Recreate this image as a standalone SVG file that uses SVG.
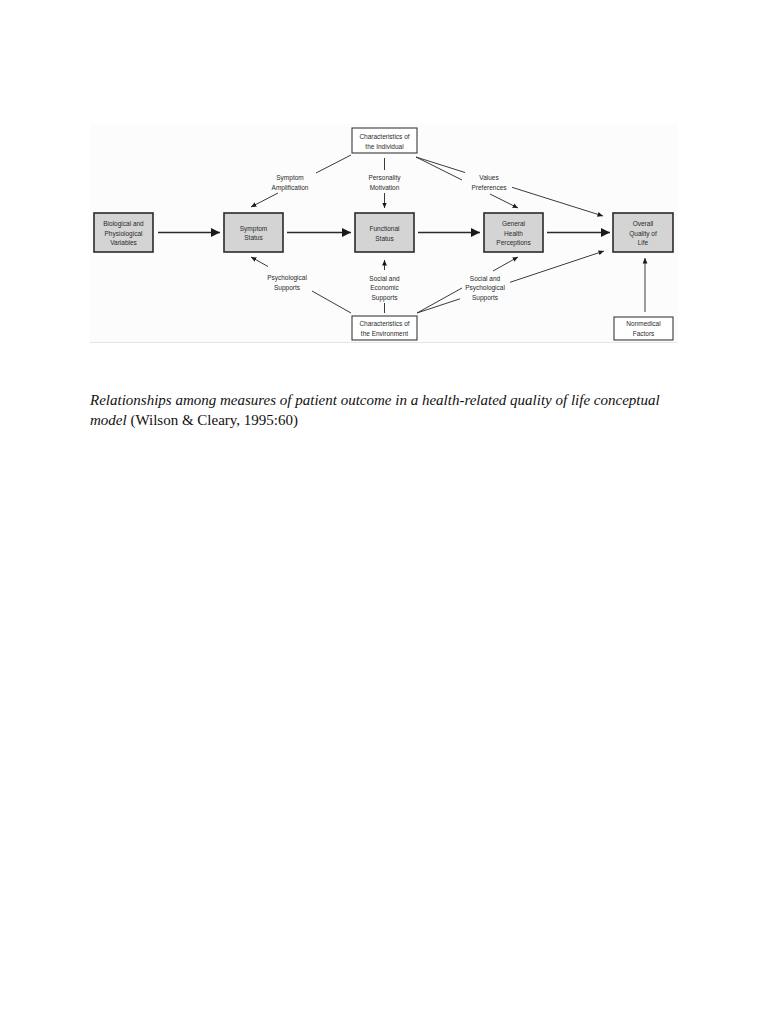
<svg xmlns="http://www.w3.org/2000/svg" width="768" height="1024" viewBox="0 0 768 1024">
<style>
.box{fill:#d4d4d4;stroke:#2a2a2a;stroke-width:1.6}
.wbox{fill:#ffffff;stroke:#3a3a3a;stroke-width:1.1}
.t{font-family:"Liberation Sans",Arial,sans-serif;font-size:6.5px;fill:#2a2a2a;text-anchor:middle}
.l{stroke:#3a3a3a;stroke-width:1;fill:none}
.m{stroke:#2a2a2a;stroke-width:1.3;fill:none}
.cap{font-family:"Liberation Serif","Times New Roman",serif;font-size:15px;fill:#111}
</style>
<defs>
<marker id="big" markerUnits="userSpaceOnUse" markerWidth="10" markerHeight="10" refX="9" refY="5" orient="auto">
<path d="M0,0.6 L9,5 L0,9.4 Z" fill="#1a1a1a"/>
</marker>
<marker id="small" markerUnits="userSpaceOnUse" markerWidth="6" markerHeight="6" refX="5.5" refY="3" orient="auto">
<path d="M0,0.6 L5.5,3 L0,5.4 Z" fill="#1a1a1a"/>
</marker>
</defs>
<rect x="90" y="124" width="588" height="218" fill="#fcfcfc"/>
<line x1="90" y1="342.5" x2="678" y2="342.5" stroke="#e6e6e6" stroke-width="1"/>

<g id="connectors">
<line class="m" x1="158" y1="232.5" x2="220" y2="232.5" marker-end="url(#big)"/>
<line class="m" x1="287" y1="232.5" x2="351" y2="232.5" marker-end="url(#big)"/>
<line class="m" x1="418" y1="232.5" x2="480" y2="232.5" marker-end="url(#big)"/>
<line class="m" x1="547" y1="232.5" x2="610" y2="232.5" marker-end="url(#big)"/>
<line class="l" x1="351" y1="155" x2="316" y2="173"/>
<line class="l" x1="278" y1="193" x2="251" y2="207" marker-end="url(#small)"/>
<line class="l" x1="384.5" y1="158" x2="384.5" y2="170"/>
<line class="l" x1="384.5" y1="193" x2="384.5" y2="208" marker-end="url(#small)"/>
<line class="l" x1="416" y1="157" x2="465" y2="172.5"/>
<line class="l" x1="512" y1="187.3" x2="603" y2="216" marker-end="url(#small)"/>
<line class="l" x1="416" y1="157" x2="462" y2="180"/>
<line class="l" x1="490" y1="194" x2="518" y2="208" marker-end="url(#small)"/>
<line class="l" x1="351" y1="313" x2="312" y2="291"/>
<line class="l" x1="268" y1="266.5" x2="251" y2="257" marker-end="url(#small)"/>
<line class="l" x1="384.5" y1="313" x2="384.5" y2="303"/>
<line class="l" x1="384.5" y1="270" x2="384.5" y2="260" marker-end="url(#small)"/>
<line class="l" x1="417" y1="313" x2="462" y2="288"/>
<line class="l" x1="493" y1="271" x2="518" y2="257" marker-end="url(#small)"/>
<line class="l" x1="417" y1="313" x2="460" y2="298.8"/>
<line class="l" x1="510" y1="282.3" x2="604" y2="251" marker-end="url(#small)"/>
<line class="l" x1="645" y1="312" x2="645" y2="258" marker-end="url(#small)"/>
</g>

<g id="label-symptom-amplification">
<text class="t" x="290" y="179.5">Symptom</text>
<text class="t" x="290" y="189.5">Amplification</text>
</g>
<g id="label-personality-motivation">
<text class="t" x="384.5" y="179.5">Personality</text>
<text class="t" x="384.5" y="189.5">Motivation</text>
</g>
<g id="label-values-preferences">
<text class="t" x="489" y="179.5">Values</text>
<text class="t" x="489" y="189.5">Preferences</text>
</g>
<g id="label-psychological-supports">
<text class="t" x="287" y="279.5">Psychological</text>
<text class="t" x="287" y="289.5">Supports</text>
</g>
<g id="label-social-economic-supports">
<text class="t" x="384.5" y="280.5">Social and</text>
<text class="t" x="384.5" y="290">Economic</text>
<text class="t" x="384.5" y="299.5">Supports</text>
</g>
<g id="label-social-psychological-supports">
<text class="t" x="485" y="280.5">Social and</text>
<text class="t" x="485" y="290">Psychological</text>
<text class="t" x="485" y="299.5">Supports</text>
</g>

<g id="node-biological">
<rect class="box" x="94" y="213" width="59" height="39"/>
<text class="t" x="123.5" y="225.5">Biological and</text>
<text class="t" x="123.5" y="235.5">Physiological</text>
<text class="t" x="123.5" y="245">Variables</text>
</g>
<g id="node-symptom">
<rect class="box" x="224" y="213" width="59" height="39"/>
<text class="t" x="253.5" y="230.5">Symptom</text>
<text class="t" x="253.5" y="240">Status</text>
</g>
<g id="node-functional">
<rect class="box" x="355" y="213" width="59" height="39"/>
<text class="t" x="384.5" y="231">Functional</text>
<text class="t" x="384.5" y="240.5">Status</text>
</g>
<g id="node-general">
<rect class="box" x="484" y="213" width="59" height="39"/>
<text class="t" x="513.5" y="225.5">General</text>
<text class="t" x="513.5" y="235.5">Health</text>
<text class="t" x="513.5" y="245">Perceptions</text>
</g>
<g id="node-overall">
<rect class="box" x="613" y="213" width="60" height="39"/>
<text class="t" x="643" y="225.5">Overall</text>
<text class="t" x="643" y="235.5">Quality of</text>
<text class="t" x="643" y="245">Life</text>
</g>
<g id="node-individual">
<rect class="wbox" x="352" y="128" width="65" height="25"/>
<text class="t" x="384.5" y="138.5">Characteristics of</text>
<text class="t" x="384.5" y="148.5">the Individual</text>
</g>
<g id="node-environment">
<rect class="wbox" x="352" y="316" width="65" height="24"/>
<text class="t" x="384.5" y="325.5">Characteristics of</text>
<text class="t" x="384.5" y="335.5">the Environment</text>
</g>
<g id="node-nonmedical">
<rect class="wbox" x="614" y="317" width="59" height="23"/>
<text class="t" x="643.5" y="325.5">Nonmedical</text>
<text class="t" x="643.5" y="335.5">Factors</text>
</g>

<g id="caption">
<text class="cap" x="90" y="405"><tspan font-style="italic">Relationships among measures of patient outcome in a health-related quality of life conceptual</tspan></text>
<text class="cap" x="90" y="425"><tspan font-style="italic">model</tspan> (Wilson &amp; Cleary, 1995:60)</text>
</g>
</svg>
